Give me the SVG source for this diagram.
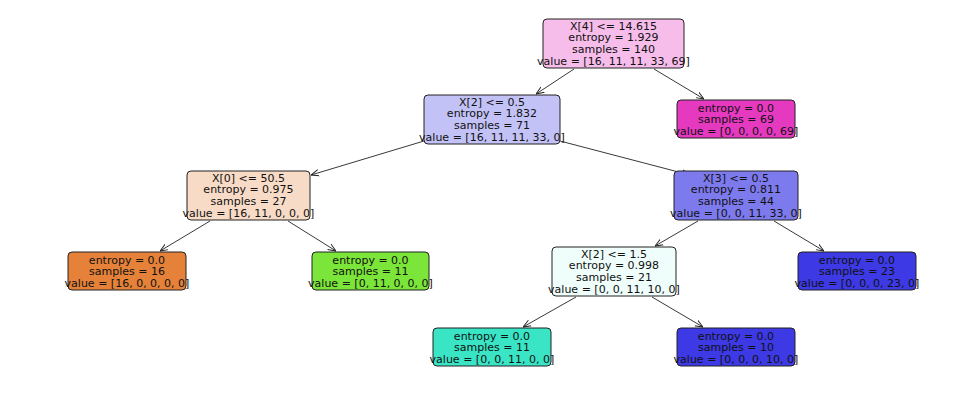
<svg xmlns="http://www.w3.org/2000/svg" width="968" height="403" viewBox="0 0 968 403">
<style>
rect{stroke:#222;stroke-width:1}
text{font-family:"DejaVu Sans",sans-serif;font-size:11px;fill:#111;text-anchor:middle;dominant-baseline:central}
.c line{stroke:#222;stroke-width:0.9;marker-end:url(#a)}
</style>
<defs><marker id="a" viewBox="0 0 10 10" refX="10" refY="5" markerWidth="8" markerHeight="8" orient="auto" markerUnits="userSpaceOnUse"><path d="M0,1 L10,5 L0,9" fill="none" stroke="#222" stroke-width="1.2"/></marker></defs>
<rect width="968" height="403" fill="#fff" style="stroke:none"/>
<g class="c">
<line x1="574" y1="69" x2="536" y2="94"/>
<line x1="654" y1="69" x2="704" y2="99"/>
<line x1="424" y1="141" x2="311" y2="175"/>
<line x1="560" y1="141" x2="690" y2="175"/>
<line x1="210" y1="221" x2="160" y2="251"/>
<line x1="288" y1="221" x2="336" y2="251"/>
<line x1="698" y1="221" x2="655" y2="246"/>
<line x1="774" y1="221" x2="824" y2="251"/>
<line x1="576" y1="297" x2="523" y2="327"/>
<line x1="652" y1="297" x2="703" y2="327"/>
</g>
<g id="n0"><rect x="543" y="19" width="141" height="49" rx="4" fill="#f6bdea"/><text x="613.5" y="26">X[4] &lt;= 14.615</text><text x="613.5" y="37.5">entropy = 1.929</text><text x="613.5" y="49">samples = 140</text><text x="613.5" y="61">value = [16, 11, 11, 33, 69]</text></g>
<g id="n1"><rect x="424" y="95" width="136" height="49" rx="4" fill="#c3c2f7"/><text x="492" y="102">X[2] &lt;= 0.5</text><text x="492" y="113.5">entropy = 1.832</text><text x="492" y="125">samples = 71</text><text x="492" y="137">value = [16, 11, 11, 33, 0]</text></g>
<g id="n2"><rect x="677" y="100" width="118" height="38" rx="4" fill="#e539c0"/><text x="736" y="108">entropy = 0.0</text><text x="736" y="119.5">samples = 69</text><text x="736" y="131">value = [0, 0, 0, 0, 69]</text></g>
<g id="n3"><rect x="187" y="171" width="123" height="49" rx="4" fill="#f8dbc6"/><text x="248.5" y="178">X[0] &lt;= 50.5</text><text x="248.5" y="189.5">entropy = 0.975</text><text x="248.5" y="201">samples = 27</text><text x="248.5" y="213">value = [16, 11, 0, 0, 0]</text></g>
<g id="n4"><rect x="674" y="171" width="124" height="49" rx="4" fill="#7d7aee"/><text x="736" y="178">X[3] &lt;= 0.5</text><text x="736" y="189.5">entropy = 0.811</text><text x="736" y="201">samples = 44</text><text x="736" y="213">value = [0, 0, 11, 33, 0]</text></g>
<g id="n5"><rect x="68" y="252" width="118" height="38" rx="4" fill="#e58139"/><text x="127" y="260">entropy = 0.0</text><text x="127" y="271.5">samples = 16</text><text x="127" y="283">value = [16, 0, 0, 0, 0]</text></g>
<g id="n6"><rect x="312" y="252" width="117" height="38" rx="4" fill="#7be539"/><text x="370.5" y="260">entropy = 0.0</text><text x="370.5" y="271.5">samples = 11</text><text x="370.5" y="283">value = [0, 11, 0, 0, 0]</text></g>
<g id="n7"><rect x="552" y="247" width="124" height="49" rx="4" fill="#effdfb"/><text x="614" y="254">X[2] &lt;= 1.5</text><text x="614" y="265.5">entropy = 0.998</text><text x="614" y="277">samples = 21</text><text x="614" y="289">value = [0, 0, 11, 10, 0]</text></g>
<g id="n8"><rect x="798" y="252" width="118" height="38" rx="4" fill="#3c39e5"/><text x="857" y="260">entropy = 0.0</text><text x="857" y="271.5">samples = 23</text><text x="857" y="283">value = [0, 0, 0, 23, 0]</text></g>
<g id="n9"><rect x="433" y="328" width="118" height="38" rx="4" fill="#39e5c5"/><text x="492" y="336">entropy = 0.0</text><text x="492" y="347.5">samples = 11</text><text x="492" y="359">value = [0, 0, 11, 0, 0]</text></g>
<g id="n10"><rect x="677" y="328" width="118" height="38" rx="4" fill="#3c39e5"/><text x="736" y="336">entropy = 0.0</text><text x="736" y="347.5">samples = 10</text><text x="736" y="359">value = [0, 0, 0, 10, 0]</text></g>
</svg>
